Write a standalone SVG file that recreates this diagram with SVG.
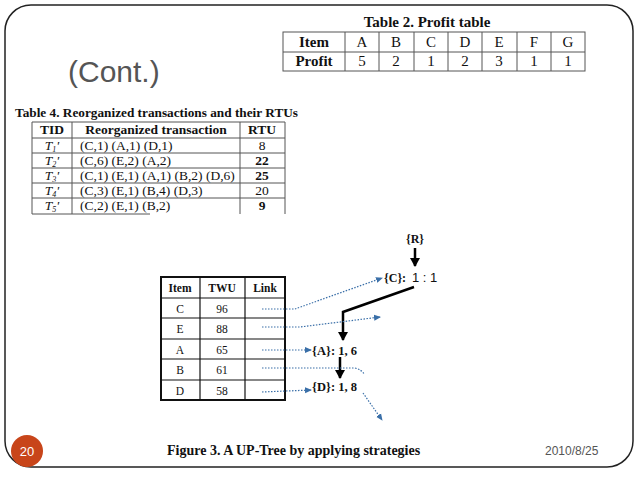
<svg xmlns="http://www.w3.org/2000/svg" width="638" height="479" viewBox="0 0 638 479">
<style>
.s{font-family:"Liberation Serif",serif;fill:#111}
.b{font-weight:bold}
.g{stroke:#555;stroke-width:1;fill:none}
.k{stroke:#111;stroke-width:1.2;fill:none}
.d{stroke:#3a6fa8;stroke-width:1.2;stroke-dasharray:1.5 1.5;fill:none}
.t{stroke:#000;stroke-width:2.5;fill:none}
</style>
<defs>
<marker id="ab" markerWidth="8" markerHeight="8" refX="6" refY="4" orient="auto" markerUnits="userSpaceOnUse"><path d="M0,1 L7,4 L0,7 z" fill="#3a6fa8"/></marker>
<marker id="ak" markerWidth="10" markerHeight="10" refX="8" refY="5" orient="auto" markerUnits="userSpaceOnUse"><path d="M0,0 L9,5 L0,10 z" fill="#000"/></marker>
</defs>
<rect width="638" height="479" fill="#fff"/>
<rect x="5" y="5" width="628" height="462" rx="26" fill="none" stroke="#222" stroke-width="1.5"/>
<text x="68" y="82" font-family="Liberation Sans,sans-serif" font-size="30" fill="#555">(Cont.)</text>
<g id="table2">
<text x="427" y="27" class="s b" font-size="15" text-anchor="middle">Table 2. Profit table</text>
<rect x="283" y="32" width="302" height="39" class="g"/>
<line x1="283" y1="52" x2="585" y2="52" class="g"/>
<g class="g"><line x1="345" y1="32" x2="345" y2="71"/><line x1="379" y1="32" x2="379" y2="71"/><line x1="414" y1="32" x2="414" y2="71"/><line x1="448" y1="32" x2="448" y2="71"/><line x1="482" y1="32" x2="482" y2="71"/><line x1="517" y1="32" x2="517" y2="71"/><line x1="551" y1="32" x2="551" y2="71"/></g>
<g class="s" font-size="15" text-anchor="middle">
<text x="314" y="47" class="b">Item</text><text x="314" y="66" class="b">Profit</text>
<text x="362" y="47">A</text><text x="396" y="47">B</text><text x="431" y="47">C</text><text x="465" y="47">D</text><text x="499" y="47">E</text><text x="534" y="47">F</text><text x="568" y="47">G</text>
<text x="362" y="66">5</text><text x="396" y="66">2</text><text x="431" y="66">1</text><text x="465" y="66">2</text><text x="499" y="66">3</text><text x="534" y="66">1</text><text x="568" y="66">1</text>
</g>
</g>
<g id="table4">
<text x="15" y="117" class="s b" font-size="13" textLength="283" lengthAdjust="spacingAndGlyphs">Table 4. Reorganized transactions and their RTUs</text>
<g class="g">
<line x1="32" y1="122" x2="285" y2="122"/><line x1="32" y1="138" x2="285" y2="138"/><line x1="32" y1="153" x2="285" y2="153"/><line x1="32" y1="168" x2="285" y2="168"/><line x1="32" y1="183" x2="285" y2="183"/><line x1="32" y1="198" x2="285" y2="198"/><line x1="32" y1="214" x2="150" y2="214"/>
<line x1="32" y1="122" x2="32" y2="214"/><line x1="72" y1="122" x2="72" y2="214"/><line x1="240" y1="122" x2="240" y2="214"/><line x1="285" y1="122" x2="285" y2="214"/>
</g>
<g class="s" font-size="13.5">
<text x="52" y="134" text-anchor="middle" class="b">TID</text><text x="156" y="134" text-anchor="middle" class="b">Reorganized transaction</text><text x="262" y="134" text-anchor="middle" class="b">RTU</text>
<g font-style="italic" text-anchor="middle"><text x="52" y="150">T<tspan font-size="8" dy="2">1</tspan><tspan dy="-2">'</tspan></text><text x="52" y="165">T<tspan font-size="8" dy="2">2</tspan><tspan dy="-2">'</tspan></text><text x="52" y="180">T<tspan font-size="8" dy="2">3</tspan><tspan dy="-2">'</tspan></text><text x="52" y="195">T<tspan font-size="8" dy="2">4</tspan><tspan dy="-2">'</tspan></text><text x="52" y="210">T<tspan font-size="8" dy="2">5</tspan><tspan dy="-2">'</tspan></text></g>
<text x="80" y="150">(C,1) (A,1) (D,1)</text><text x="80" y="165">(C,6) (E,2) (A,2)</text><text x="80" y="180">(C,1) (E,1) (A,1) (B,2) (D,6)</text><text x="80" y="195">(C,3) (E,1) (B,4) (D,3)</text><text x="80" y="210">(C,2) (E,1) (B,2)</text>
<g text-anchor="middle"><text x="262" y="150">8</text><text x="262" y="165" class="b">22</text><text x="262" y="180" class="b">25</text><text x="262" y="195">20</text><text x="262" y="210" class="b">9</text></g>
</g>
</g>
<g id="itemtable">
<rect x="161" y="277" width="124" height="123" fill="none" stroke="#111" stroke-width="2"/>
<g class="k"><line x1="161" y1="298" x2="285" y2="298"/><line x1="161" y1="318" x2="285" y2="318"/><line x1="161" y1="339" x2="285" y2="339"/><line x1="161" y1="359" x2="285" y2="359"/><line x1="161" y1="380" x2="285" y2="380"/><line x1="200" y1="277" x2="200" y2="400"/><line x1="245" y1="277" x2="245" y2="400"/></g>
<g class="s" font-size="11.5" text-anchor="middle">
<text x="180" y="292" class="b">Item</text><text x="222" y="292" class="b">TWU</text><text x="265" y="292" class="b">Link</text>
<text x="180" y="313">C</text><text x="222" y="313">96</text>
<text x="180" y="333">E</text><text x="222" y="333">88</text>
<text x="180" y="354">A</text><text x="222" y="354">65</text>
<text x="180" y="374">B</text><text x="222" y="374">61</text>
<text x="180" y="395">D</text><text x="222" y="395">58</text>
</g>
</g>
<g id="nodeR"><text x="415" y="243" class="s b" font-size="12" text-anchor="middle">{R}</text></g>
<g id="nodeC"><text x="384" y="282" class="s b" font-size="12">{C}:</text><text x="412" y="282" font-family="Liberation Sans,sans-serif" font-size="13" fill="#111"> 1 : 1</text></g>
<g id="nodeA"><text x="312" y="355" class="s b" font-size="12.5">{A}: 1, 6</text></g>
<g id="nodeD"><text x="312" y="391" class="s b" font-size="12.5">{D}: 1, 8</text></g>
<g id="connectors">
<line x1="415" y1="248" x2="415" y2="266" class="t" marker-end="url(#ak)" stroke-width="2"/>
<path d="M414,287 L343,312 L343,340" class="t" stroke-width="2.5" marker-end="url(#ak)"/>
<line x1="340" y1="357" x2="340" y2="378" class="t" stroke-width="2.5" marker-end="url(#ak)"/>
<path d="M262,309 L295,309 Q320,300 382,278" class="d" marker-end="url(#ab)"/>
<path d="M262,327 L300,327 L380,317" class="d" marker-end="url(#ab)"/>
<line x1="262" y1="350" x2="311" y2="350" class="d" marker-end="url(#ab)"/>
<path d="M262,368 L355,368 Q362,370 364,374" class="d"/>
<path d="M262,392 L311,390" class="d" marker-end="url(#ab)"/>
<line x1="363" y1="393" x2="382" y2="420" class="d" marker-end="url(#ab)"/>
</g>
<text x="167" y="455" class="s b" font-size="14">Figure 3. A UP-Tree by applying strategies</text>
<text x="545" y="455" font-family="Liberation Sans,sans-serif" font-size="12" fill="#555">2010/8/25</text>
<circle cx="27" cy="451" r="16" fill="#c8451a"/>
<text x="27" y="456" font-family="Liberation Sans,sans-serif" font-size="13" fill="#fff" text-anchor="middle">20</text>
</svg>
